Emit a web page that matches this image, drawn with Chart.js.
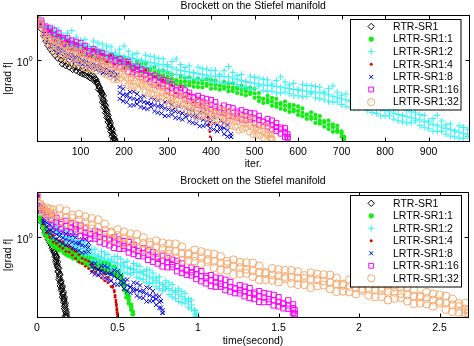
<!DOCTYPE html>
<html>
<head>
<meta charset="utf-8">
<script src="https://cdn.jsdelivr.net/npm/chart.js@4.4.1/dist/chart.umd.min.js"></script>
<style>
html, body { margin: 0; padding: 0; background: #fff; }
#wrap { position: relative; width: 474px; height: 346px; }
canvas { position: absolute; left: 0; }
#topChart { top: 0; }
#bottomChart { top: 173px; }
</style>
</head>
<body>
<div id="wrap">
  <canvas id="topChart" width="474" height="173"></canvas>
  <canvas id="bottomChart" width="474" height="173"></canvas>
</div>
<script>
// Series (same in both panels)
const seriesNames = ['RTR-SR1', 'LRTR-SR1:1', 'LRTR-SR1:2', 'LRTR-SR1:4', 'LRTR-SR1:8', 'LRTR-SR1:16', 'LRTR-SR1:32'];
const seriesColors = ['#000000', '#11ee11', '#2ef3f3', '#e00000', '#0000e6', '#ff00ff', '#f9a86c'];
const markerStyles = ['rectRot', 'circle', 'cross', 'circle', 'crossRot', 'rect', 'circle'];
const markerFilled = [false, true, false, true, false, false, false];

// Axis ticks
const topXTicks = [100, 200, 300, 400, 500, 600, 700, 800, 900];
const topXLabels = ['100', '200', '300', '400', '500', '600', '700', '800', '900'];
const bottomXTicks = [0, 0.5, 1, 1.5, 2, 2.5];
const bottomXLabels = ['0', '0.5', '1', '1.5', '2', '2.5'];

// ---- Top panel: x = iteration, values = |grad f| (upper / lower / middle of each band) ----
const topRtr = [[0,3.05],[5,2.6],[10,2.2],[15,1.85],[20,1.62],[25,1.45],[30,1.33],[36,1.22],[42,1.12],[48,1.04],[55,1.0],[58,0.9],[62,0.96],[66,0.86],[70,0.9],[74,0.83],[78,0.9],[82,0.78],[86,0.82],[90,0.76],[94,0.82],[98,0.72],[100,0.76],[104,0.7],[106,0.77],[110,0.68],[112,0.72],[116,0.66],[118,0.72],[122,0.63],[124,0.67],[128,0.61],[130,0.66],[132,0.58],[134,0.62],[136,0.6],[138,0.57],[139,0.55],[141,0.52],[143,0.5],[144,0.49],[141,0.47],[147,0.45],[146,0.46],[149,0.43],[150,0.42],[148,0.4],[153,0.4],[151,0.37],[152,0.36],[155,0.35],[150,0.34],[154,0.33],[156,0.32],[158,0.31],[153,0.3],[157,0.29],[159,0.28],[161,0.27],[157,0.26],[160,0.255],[162,0.25],[164,0.24],[160,0.23],[163,0.225],[165,0.22],[167,0.21],[163,0.205],[169,0.2],[168,0.19],[168,0.185],[166,0.178],[172,0.175],[171,0.17],[174,0.165],[169,0.16],[173,0.155],[174,0.15],[177,0.145],[172,0.142],[178,0.135],[176,0.135],[175,0.128],[179,0.13],[180,0.126]];
const topRed = [[0,3.05],[10,2.6],[20,2.04],[30,2.1],[40,1.64],[50,1.87],[60,1.47],[70,1.6],[80,1.3],[90,1.52],[100,1.21],[110,1.33],[120,1.11],[130,1.31],[140,1.06],[150,1.16],[160,0.95],[170,1.12],[180,0.9],[190,0.98],[200,0.8],[210,0.94],[220,0.745],[230,0.82],[240,0.67],[250,0.77],[260,0.61],[270,0.65],[280,0.52],[290,0.6],[300,0.48],[310,0.525],[320,0.43],[330,0.5],[340,0.39],[350,0.42],[360,0.34],[370,0.37],[380,0.3],[388,0.28],[392,0.23],[395,0.19],[397,0.16],[398,0.14]];

const topSr1Iter = [0,10,20,30,40,50,60,70,80,90,100,110,120,130,140,150,160,170,180,190,200,210,220,230,240,250,260,270,280,290,300,310,320,330,340,350,360,370,380,390,400,410,420,430,440,450,460,470,480,490,500,510,520,530,540,550,560,570,580,590,600,610,620,630,640,650,660,670,680,690,700,706];
const topSr1A = [3.05,2.4,2.29,1.9,2.04,1.58,1.7,1.38,1.57,1.31,1.48,1.16,1.22,1.1,1.24,1.01,1.11,0.94,1.09,0.93,1.06,0.84,0.89,0.81,0.91,0.74,0.8,0.66,0.756,0.646,0.728,0.564,0.595,0.545,0.633,0.524,0.586,0.5,0.594,0.516,0.6,0.482,0.52,0.479,0.55,0.451,0.497,0.419,0.486,0.418,0.476,0.35,0.37,0.338,0.38,0.304,0.333,0.279,0.319,0.269,0.305,0.237,0.247,0.221,0.246,0.196,0.21,0.171,0.193,0.159,0.161,0.14];
const topSr1B = [3.0,2.6,2.05,2.15,1.68,1.9,1.47,1.7,1.3,1.52,1.18,1.42,1.1,1.3,1.01,1.22,0.96,1.16,0.91,1.09,0.85,1.03,0.8,0.96,0.74,0.9,0.69,0.82,0.63,0.76,0.58,0.69,0.535,0.65,0.515,0.64,0.505,0.62,0.495,0.61,0.48,0.59,0.467,0.57,0.45,0.55,0.43,0.52,0.405,0.49,0.38,0.43,0.333,0.4,0.31,0.37,0.288,0.345,0.265,0.315,0.245,0.29,0.222,0.262,0.2,0.238,0.182,0.212,0.16,0.185,0.14,0.132];
const topSr1Mid = [3.05,2.5,2.2,2.0,1.85,1.72,1.63,1.53,1.45,1.38,1.32,1.27,1.22,1.17,1.13,1.1,1.07,1.04,1.01,0.98,0.95,0.92,0.89,0.86,0.83,0.805,0.77,0.735,0.7,0.68,0.65,0.62,0.595,0.58,0.575,0.57,0.563,0.556,0.55,0.543,0.536,0.53,0.52,0.51,0.5,0.49,0.478,0.465,0.45,0.44,0.425,0.385,0.37,0.36,0.345,0.33,0.32,0.31,0.295,0.283,0.272,0.26,0.247,0.235,0.224,0.213,0.202,0.19,0.179,0.167,0.153,0.14];

const topSr2Iter = [0,10,20,30,40,50,60,70,80,90,100,110,120,130,140,150,160,170,180,190,200,210,220,230,240,250,260,270,280,290,300,310,320,330,340,350,360,370,380,390,400,410,420,430,440,450,460,470,480,490,500,510,520,530,540,550,560,570,580,590,600,610,620,630,640,650,660,670,680,690,700,710,720,730,740,750,760,770,780,790,800,810,820,830,840,850,860,870,880,890,900,910,920,930,940,950,960,970,980,990];
const topSr2A = [3.05,2.47,2.36,1.98,2.27,1.62,1.89,1.44,2.12,1.4,1.65,1.23,1.41,1.62,1.17,1.23,1.43,1.03,1.22,0.95,1.43,0.96,1.14,0.86,0.99,1.13,0.83,0.87,1.04,0.76,0.89,0.69,1.03,0.69,0.825,0.625,0.72,0.83,0.61,0.64,0.765,0.57,0.69,0.55,0.845,0.567,0.67,0.5,0.575,0.66,0.484,0.513,0.61,0.447,0.54,0.43,0.65,0.44,0.53,0.4,0.465,0.537,0.396,0.423,0.506,0.372,0.441,0.344,0.514,0.342,0.407,0.306,0.35,0.4,0.292,0.309,0.366,0.262,0.31,0.239,0.358,0.239,0.282,0.211,0.24,0.276,0.2,0.211,0.248,0.179,0.21,0.162,0.242,0.162,0.191,0.143,0.163,0.186,0.135,0.141];
const topSr2B = [3.0,2.7,2.1,2.3,1.7,2.15,1.58,1.98,1.42,1.8,1.3,1.68,1.22,1.18,1.55,1.5,1.07,1.4,1.0,1.32,0.96,1.25,0.9,1.18,0.86,0.83,1.1,1.08,0.78,1.03,0.74,0.96,0.69,0.89,0.65,0.86,0.63,0.61,0.8,0.79,0.58,0.77,0.57,0.76,0.56,0.73,0.53,0.69,0.5,0.48,0.64,0.63,0.46,0.6,0.45,0.59,0.43,0.57,0.42,0.55,0.4,0.39,0.52,0.52,0.38,0.5,0.36,0.48,0.34,0.44,0.32,0.42,0.3,0.29,0.39,0.38,0.275,0.355,0.255,0.33,0.24,0.31,0.22,0.29,0.205,0.2,0.265,0.258,0.186,0.242,0.172,0.224,0.16,0.21,0.15,0.195,0.14,0.136,0.178,0.17];
const topSr2Mid = [3.05,2.55,2.25,2.08,1.97,1.88,1.8,1.72,1.63,1.56,1.5,1.45,1.41,1.37,1.33,1.29,1.24,1.2,1.16,1.13,1.1,1.07,1.04,1.01,0.99,0.96,0.94,0.92,0.9,0.88,0.85,0.82,0.79,0.765,0.75,0.735,0.72,0.705,0.69,0.675,0.665,0.66,0.66,0.655,0.65,0.63,0.61,0.59,0.575,0.56,0.55,0.54,0.53,0.52,0.515,0.51,0.5,0.49,0.48,0.47,0.465,0.455,0.45,0.445,0.44,0.432,0.42,0.41,0.395,0.38,0.37,0.36,0.35,0.34,0.332,0.325,0.318,0.305,0.295,0.285,0.275,0.265,0.256,0.248,0.24,0.234,0.228,0.222,0.216,0.208,0.2,0.193,0.186,0.18,0.174,0.168,0.163,0.158,0.153,0.148];

const topSr8Iter = [0,8,16,24,32,40,48,56,64,72,80,88,96,104,112,120,128,136,144,152,160,168,176,184,190,198,206,214,222,230,238,246,254,262,270,278,286,294,302,310,318,326,334,342,350,358,366,374,382,390,398,406,414,422,430,438,446];
const topSr8A = [3.05,2.52,1.87,1.73,1.38,1.46,1.2,1.32,1.09,1.18,0.98,1.09,0.92,1.0,0.85,0.94,0.8,0.87,0.74,0.82,0.69,0.756,0.644,0.69,0.5,0.349,0.415,0.312,0.444,0.324,0.385,0.292,0.333,0.302,0.365,0.26,0.313,0.238,0.338,0.248,0.295,0.225,0.256,0.233,0.283,0.201,0.242,0.184,0.26,0.189,0.224,0.169,0.19,0.169,0.203,0.141,0.14];
const topSr8B = [3.0,2.4,2.0,1.58,1.56,1.3,1.38,1.15,1.25,1.05,1.15,0.96,1.06,0.89,0.98,0.83,0.92,0.78,0.86,0.72,0.8,0.67,0.75,0.62,0.37,0.48,0.34,0.44,0.315,0.42,0.3,0.395,0.285,0.38,0.27,0.355,0.255,0.34,0.24,0.32,0.228,0.305,0.218,0.29,0.208,0.275,0.197,0.262,0.185,0.245,0.174,0.23,0.162,0.212,0.15,0.19,0.15];
const topSr8Mid = [3.05,2.45,1.95,1.65,1.48,1.38,1.3,1.23,1.17,1.12,1.07,1.03,0.99,0.95,0.92,0.89,0.86,0.83,0.8,0.77,0.745,0.72,0.7,0.68,0.43,0.41,0.395,0.38,0.37,0.36,0.35,0.34,0.333,0.325,0.315,0.306,0.298,0.29,0.282,0.275,0.268,0.262,0.256,0.25,0.244,0.237,0.23,0.224,0.217,0.21,0.204,0.197,0.19,0.182,0.175,0.166,0.14];

const topSr16Iter = [0,10,20,30,40,50,60,70,80,90,100,110,120,130,140,150,160,170,180,190,200,210,220,230,240,250,260,270,280,290,300,310,320,330,340,350,360,370,380,390,400,410,420,430,440,450,460,470,480,490,500,510,520,530,540,550,560,570,576];
const topSr16A = [3.05,2.47,2.36,1.89,2.13,1.6,1.75,1.39,1.65,1.34,1.55,1.16,1.25,1.1,1.22,0.97,1.05,0.88,1.0,0.84,0.96,0.74,0.8,0.7,0.79,0.61,0.67,0.53,0.63,0.51,0.58,0.43,0.46,0.4,0.46,0.35,0.39,0.317,0.38,0.31,0.36,0.27,0.293,0.258,0.3,0.236,0.268,0.218,0.264,0.218,0.255,0.191,0.207,0.182,0.213,0.162,0.178,0.139,0.135];
const topSr16B = [3.0,2.75,2.1,2.25,1.7,1.98,1.5,1.75,1.34,1.6,1.2,1.44,1.12,1.33,1.02,1.2,0.95,1.1,0.87,1.03,0.8,0.95,0.73,0.85,0.64,0.76,0.57,0.67,0.51,0.6,0.45,0.54,0.41,0.49,0.365,0.435,0.335,0.4,0.305,0.37,0.283,0.34,0.262,0.313,0.24,0.292,0.228,0.277,0.214,0.258,0.2,0.24,0.185,0.222,0.17,0.2,0.152,0.175,0.15];
const topSr16Mid = [3.05,2.6,2.25,2.05,1.9,1.78,1.67,1.58,1.5,1.43,1.36,1.3,1.25,1.2,1.15,1.1,1.06,1.02,0.98,0.94,0.9,0.86,0.82,0.77,0.72,0.68,0.64,0.6,0.57,0.54,0.51,0.485,0.46,0.435,0.41,0.39,0.375,0.36,0.345,0.33,0.318,0.305,0.293,0.28,0.27,0.262,0.255,0.248,0.24,0.232,0.224,0.215,0.207,0.198,0.19,0.18,0.17,0.158,0.14];

const topSr32Iter = [0,8,16,24,32,40,48,56,64,72,80,88,96,104,112,120,128,136,144,152,160,168,176,184,192,200,208,216,224,232,240,248,256,264,272,280,288,296,304,312,320,328,336,344,352,360,368,376,384,392,400,408,416,424,432,440,448,456,464,472,480,488,496,504,512,520,528,536,540];
const topSr32A = [3.05,2.6,1.85,1.81,1.37,1.64,1.15,1.54,1.03,1.27,0.9,1.25,0.945,1.23,0.8,0.98,0.8,1.05,0.82,1.0,0.68,0.84,0.6,0.82,0.62,0.8,0.52,0.63,0.51,0.66,0.52,0.63,0.42,0.53,0.376,0.52,0.387,0.5,0.324,0.39,0.318,0.41,0.318,0.384,0.26,0.324,0.232,0.324,0.246,0.323,0.212,0.259,0.213,0.278,0.22,0.271,0.185,0.229,0.165,0.23,0.175,0.228,0.148,0.177,0.144,0.187,0.147,0.163,0.132];
const topSr32B = [3.0,2.4,2.05,1.56,1.68,1.25,1.58,1.08,1.45,1.0,1.33,0.92,1.24,0.85,1.16,0.8,1.1,0.76,1.03,0.71,0.96,0.65,0.89,0.6,0.81,0.56,0.75,0.51,0.69,0.48,0.64,0.44,0.6,0.41,0.56,0.38,0.51,0.35,0.47,0.32,0.43,0.295,0.4,0.27,0.37,0.255,0.345,0.238,0.325,0.225,0.305,0.213,0.29,0.2,0.275,0.19,0.262,0.18,0.245,0.17,0.23,0.158,0.215,0.146,0.196,0.137,0.182,0.135,0.13];
const topSr32Mid = [3.05,2.5,1.95,1.68,1.52,1.43,1.35,1.28,1.23,1.18,1.13,1.09,1.05,1.01,0.98,0.955,0.925,0.895,0.865,0.84,0.81,0.78,0.745,0.715,0.69,0.66,0.63,0.61,0.585,0.565,0.545,0.525,0.505,0.49,0.47,0.45,0.43,0.41,0.395,0.38,0.365,0.35,0.335,0.32,0.31,0.3,0.29,0.282,0.273,0.265,0.258,0.251,0.245,0.238,0.232,0.226,0.22,0.212,0.206,0.2,0.194,0.187,0.18,0.172,0.165,0.16,0.155,0.148,0.135];

// ---- Bottom panel: x = time (s), values = |grad f| ----
const botRtr = [[0,2.9],[0.01,2.2],[0.02,1.75],[0.03,1.45],[0.04,1.25],[0.05,1.12],[0.06,1.02],[0.07,0.93],[0.08,0.86],[0.09,0.8],[0.095,0.74],[0.1,0.76],[0.1,0.7],[0.105,0.72],[0.108,0.66],[0.11,0.68],[0.112,0.6],[0.115,0.63],[0.12,0.6],[0.122,0.58],[0.116,0.52],[0.118,0.55],[0.128,0.52],[0.124,0.49],[0.126,0.47],[0.13,0.45],[0.135,0.44],[0.131,0.41],[0.133,0.4],[0.142,0.38],[0.14,0.37],[0.138,0.35],[0.137,0.33],[0.15,0.32],[0.148,0.31],[0.146,0.3],[0.144,0.28],[0.157,0.28],[0.155,0.27],[0.153,0.26],[0.151,0.25],[0.164,0.24],[0.161,0.23],[0.16,0.225],[0.158,0.21],[0.17,0.21],[0.168,0.2],[0.167,0.195],[0.165,0.185],[0.176,0.18],[0.174,0.17],[0.172,0.165],[0.171,0.155],[0.179,0.153],[0.178,0.145],[0.182,0.14],[0.181,0.133],[0.176,0.128],[0.184,0.128]];

const botSr1Time = [0,0.01,0.02,0.03,0.045,0.06,0.075,0.09,0.105,0.12,0.135,0.15,0.165,0.18,0.195,0.21,0.225,0.24,0.255,0.27,0.285,0.3,0.315,0.33,0.345,0.36,0.375,0.39,0.405,0.42,0.435,0.45,0.465,0.48,0.495,0.51,0.525,0.54,0.555,0.57,0.585,0.595];
const botSr1A = [2.9,2.0,1.66,1.33,1.3,0.97,1.11,0.81,0.9,0.74,0.87,0.71,0.83,0.63,0.725,0.6,0.705,0.577,0.672,0.515,0.6,0.5,0.594,0.488,0.571,0.44,0.515,0.432,0.517,0.428,0.504,0.387,0.45,0.374,0.435,0.344,0.363,0.252,0.248,0.179,0.173,0.135];
const botSr1B = [2.8,1.9,1.52,1.5,1.08,1.2,0.88,1.03,0.77,0.92,0.7,0.85,0.66,0.79,0.61,0.745,0.57,0.69,0.535,0.65,0.505,0.62,0.48,0.585,0.455,0.56,0.435,0.535,0.42,0.515,0.4,0.49,0.385,0.465,0.355,0.41,0.295,0.31,0.21,0.215,0.152,0.145];
const botSr1Mid = [2.9,2.0,1.6,1.4,1.2,1.08,0.99,0.92,0.86,0.82,0.79,0.76,0.74,0.715,0.69,0.665,0.64,0.62,0.6,0.585,0.57,0.555,0.54,0.525,0.51,0.5,0.49,0.48,0.47,0.46,0.45,0.44,0.43,0.415,0.395,0.37,0.33,0.28,0.23,0.195,0.165,0.135];

const botSr2Time = [0,0.02,0.04,0.06,0.08,0.1,0.12,0.14,0.16,0.18,0.2,0.22,0.24,0.26,0.28,0.3,0.32,0.34,0.36,0.38,0.4,0.42,0.44,0.46,0.48,0.5,0.52,0.54,0.56,0.58,0.6,0.62,0.64,0.66,0.68,0.7,0.72,0.74,0.76,0.78,0.8,0.82,0.84,0.86,0.88,0.9,0.92,0.94,0.96,0.98,0.99];
const botSr2A = [2.9,2.24,1.73,1.7,1.33,1.49,1.14,1.32,0.99,1.11,0.92,1.09,0.75,0.88,0.655,0.876,0.62,0.71,0.538,0.605,0.544,0.655,0.463,0.56,0.43,0.596,0.434,0.514,0.39,0.44,0.397,0.478,0.338,0.406,0.308,0.422,0.302,0.352,0.262,0.29,0.257,0.304,0.212,0.25,0.188,0.244,0.18,0.203,0.155,0.15,0.128];
const botSr2B = [2.8,2.1,1.9,1.45,1.6,1.2,1.42,1.06,1.3,0.92,1.15,0.8,1.02,0.72,0.9,0.63,0.8,0.55,0.72,0.52,0.68,0.48,0.63,0.45,0.6,0.42,0.56,0.4,0.53,0.38,0.5,0.35,0.465,0.33,0.43,0.3,0.39,0.275,0.355,0.25,0.32,0.225,0.29,0.203,0.26,0.182,0.23,0.16,0.195,0.135,0.14];
const botSr2Mid = [2.9,2.2,1.8,1.6,1.45,1.35,1.27,1.2,1.13,1.06,1.0,0.94,0.88,0.83,0.78,0.73,0.69,0.645,0.625,0.605,0.585,0.565,0.545,0.528,0.512,0.497,0.482,0.467,0.453,0.44,0.427,0.412,0.398,0.383,0.367,0.352,0.336,0.32,0.305,0.29,0.276,0.262,0.249,0.236,0.224,0.212,0.2,0.188,0.172,0.15,0.128];

const botSr4Time = [0,0.02,0.04,0.06,0.08,0.1,0.12,0.14,0.16,0.18,0.2,0.22,0.24,0.26,0.28,0.3,0.32,0.34,0.36,0.38,0.4,0.42,0.44,0.46,0.47,0.48,0.485,0.49,0.493,0.496,0.498,0.5];
const botSr4A = [2.9,1.9,1.54,1.1,1.17,0.87,0.95,0.78,0.88,0.68,0.76,0.62,0.68,0.52,0.57,0.465,0.53,0.41,0.456,0.373,0.418,0.32,0.35,0.276,0.28,0.25,0.22,0.195,0.175,0.157,0.142,0.128];
const botSr4B = [2.8,2.0,1.38,1.28,0.98,1.04,0.84,0.9,0.74,0.8,0.67,0.72,0.57,0.63,0.5,0.55,0.44,0.49,0.4,0.43,0.345,0.38,0.305,0.32,0.27,0.24,0.21,0.185,0.168,0.15,0.137,0.125];

const botSr8Time = [0,0.02,0.04,0.06,0.08,0.1,0.12,0.14,0.16,0.18,0.2,0.22,0.24,0.26,0.28,0.3,0.32,0.34,0.36,0.38,0.4,0.42,0.44,0.46,0.48,0.5,0.52,0.54,0.56,0.58,0.6,0.62,0.64,0.66,0.68,0.7,0.72,0.74,0.76,0.77,0.78];
const botSr8A = [2.9,2.06,1.43,1.43,1.08,1.25,0.93,1.11,0.834,1.07,0.81,1.03,0.72,0.86,0.66,0.94,0.68,0.506,0.378,0.425,0.38,0.47,0.33,0.394,0.295,0.408,0.288,0.33,0.245,0.272,0.244,0.3,0.208,0.249,0.188,0.264,0.19,0.22,0.159,0.19,0.14];
const botSr8B = [2.8,1.9,1.6,1.15,1.36,0.98,1.2,0.88,1.12,0.8,1.04,0.75,0.98,0.7,0.93,0.67,0.86,0.4,0.5,0.37,0.47,0.345,0.45,0.32,0.42,0.29,0.37,0.26,0.33,0.235,0.305,0.218,0.285,0.205,0.27,0.19,0.245,0.172,0.215,0.16,0.15];
const botSr8Mid = [2.9,2.0,1.5,1.3,1.2,1.12,1.06,1.01,0.97,0.93,0.9,0.87,0.85,0.82,0.8,0.78,0.76,0.46,0.44,0.425,0.41,0.4,0.39,0.375,0.36,0.34,0.32,0.3,0.285,0.272,0.262,0.253,0.245,0.237,0.229,0.22,0.212,0.2,0.185,0.19,0.14];

const botSr16Time = [0,0.03,0.06,0.09,0.12,0.15,0.18,0.21,0.24,0.27,0.3,0.33,0.36,0.39,0.42,0.45,0.48,0.51,0.54,0.57,0.6,0.63,0.66,0.69,0.72,0.75,0.78,0.81,0.84,0.87,0.9,0.93,0.96,0.99,1.02,1.05,1.08,1.11,1.14,1.17,1.2,1.23,1.26,1.29,1.32,1.35,1.38,1.41,1.44,1.47,1.5,1.53,1.56,1.59,1.6];
const botSr16A = [2.9,2.16,1.66,1.75,1.28,1.45,1.14,1.42,1.13,1.33,0.99,1.07,0.95,1.12,0.836,0.955,0.748,0.93,0.735,0.868,0.64,0.69,0.603,0.706,0.524,0.593,0.464,0.577,0.456,0.535,0.392,0.42,0.368,0.43,0.317,0.359,0.28,0.347,0.276,0.328,0.243,0.262,0.232,0.275,0.206,0.236,0.186,0.233,0.186,0.222,0.166,0.178,0.156,0.174,0.135];
const botSr16B = [2.8,2.0,1.9,1.38,1.62,1.22,1.5,1.12,1.36,1.02,1.25,0.95,1.16,0.87,1.07,0.8,0.98,0.73,0.89,0.665,0.81,0.61,0.74,0.55,0.67,0.5,0.61,0.455,0.55,0.41,0.5,0.375,0.45,0.335,0.41,0.3,0.37,0.275,0.34,0.252,0.31,0.233,0.285,0.215,0.265,0.2,0.245,0.185,0.228,0.17,0.21,0.158,0.193,0.14,0.15];
const botSr16Mid = [2.9,2.1,1.75,1.55,1.45,1.38,1.32,1.27,1.21,1.16,1.11,1.07,1.03,0.99,0.95,0.91,0.87,0.83,0.79,0.755,0.72,0.69,0.655,0.625,0.595,0.565,0.54,0.515,0.49,0.465,0.44,0.42,0.4,0.38,0.36,0.342,0.325,0.31,0.297,0.285,0.273,0.262,0.252,0.243,0.234,0.225,0.216,0.208,0.2,0.193,0.186,0.178,0.17,0.158,0.135];

const botSr32Time = [0,0.02,0.04,0.06,0.08,0.1,0.14,0.18,0.22,0.26,0.3,0.34,0.38,0.42,0.46,0.5,0.54,0.58,0.62,0.66,0.7,0.74,0.78,0.82,0.86,0.9,0.94,0.98,1.02,1.06,1.1,1.14,1.18,1.22,1.26,1.3,1.34,1.38,1.42,1.46,1.5,1.54,1.58,1.62,1.66,1.7,1.74,1.78,1.82,1.86,1.9,1.94,1.98,2.02,2.06,2.1,2.14,2.18,2.22,2.26,2.3,2.34,2.38,2.42,2.46,2.5,2.54,2.58,2.62,2.66,2.68];
const botSr32A = [2.9,2.3,2.1,1.77,2.03,1.62,2.06,1.39,1.73,1.22,1.67,1.22,1.55,0.97,1.13,0.9,1.13,0.87,1.06,0.71,0.86,0.62,0.85,0.64,0.83,0.54,0.65,0.53,0.68,0.527,0.636,0.428,0.53,0.376,0.518,0.389,0.506,0.328,0.397,0.324,0.427,0.339,0.42,0.29,0.367,0.269,0.38,0.286,0.372,0.242,0.294,0.24,0.314,0.249,0.308,0.212,0.268,0.195,0.274,0.207,0.272,0.177,0.216,0.176,0.228,0.179,0.216,0.144,0.178,0.14,0.14];
const botSr32B = [2.8,2.2,1.85,2.1,1.66,2.0,1.48,1.95,1.35,1.78,1.24,1.6,1.07,1.38,0.95,1.2,0.83,1.08,0.76,0.98,0.68,0.9,0.63,0.83,0.58,0.77,0.54,0.71,0.5,0.65,0.45,0.6,0.42,0.55,0.385,0.51,0.355,0.47,0.33,0.44,0.31,0.42,0.3,0.405,0.29,0.395,0.28,0.375,0.26,0.345,0.245,0.325,0.228,0.305,0.22,0.295,0.212,0.285,0.203,0.27,0.19,0.255,0.18,0.238,0.166,0.222,0.153,0.2,0.142,0.18,0.15];
const botSr32Mid = [2.9,2.3,2.0,1.9,1.85,1.8,1.72,1.65,1.6,1.53,1.45,1.36,1.27,1.18,1.1,1.03,0.97,0.92,0.88,0.84,0.8,0.77,0.74,0.71,0.68,0.655,0.63,0.605,0.58,0.555,0.53,0.51,0.49,0.47,0.45,0.432,0.415,0.4,0.385,0.372,0.365,0.357,0.35,0.345,0.34,0.336,0.33,0.318,0.305,0.295,0.285,0.276,0.268,0.262,0.257,0.252,0.248,0.244,0.238,0.23,0.223,0.216,0.21,0.202,0.195,0.188,0.18,0.172,0.165,0.155,0.14];

const yMin = 0.1227;
const yMax = 3.162;
const FONT = "'Liberation Sans', Arial, Helvetica, sans-serif";
const legendRadii = [3.2, 2.6, 3.3, 1.5, 2.8, 3.4, 3.6];

// one column of readings per x: every layer gives one marker
function stackPoints(xs, ...layers) {
    const pts = [];
    layers.forEach(layer => xs.forEach((x, i) => pts.push([x, layer[i]])));
    return pts;
}

function makeDatasets(seriesData, radii) {
    return seriesData.map((pts, i) => ({
        label: seriesNames[i],
        data: pts.map(p => ({ x: p[0], y: p[1] })),
        showLine: false,
        pointStyle: markerStyles[i],
        pointRadius: radii[i],
        pointHoverRadius: radii[i],
        pointBorderWidth: markerFilled[i] ? 0 : 1,
        pointBorderColor: seriesColors[i],
        pointBackgroundColor: markerFilled[i] ? seriesColors[i] : 'rgba(0,0,0,0)',
        borderColor: seriesColors[i],
        backgroundColor: markerFilled[i] ? seriesColors[i] : 'rgba(0,0,0,0)',
        order: seriesNames.length - 1 - i   // last series drawn on top, like MATLAB
    }));
}

// Box, inward ticks, titles and legend in the MATLAB look
function framePlugin(cfg) {
    return {
        id: 'frame',
        afterDatasetsDraw(chart) {
            const ctx = chart.ctx;
            const a = chart.chartArea;
            const xs = chart.scales.x;
            const ys = chart.scales.y;
            ctx.save();
            ctx.strokeStyle = '#000';
            ctx.lineWidth = 1;
            const L = Math.round(a.left) + 0.5, R = Math.round(a.right) - 0.5;
            const T = Math.round(a.top) + 0.5, B = Math.round(a.bottom) - 0.5;
            ctx.strokeRect(L, T, R - L, B - T);

            ctx.beginPath();
            cfg.xTicks.forEach(v => {
                const x = Math.round(xs.getPixelForValue(v)) + 0.5;
                ctx.moveTo(x, B); ctx.lineTo(x, B - 4);
                ctx.moveTo(x, T); ctx.lineTo(x, T + 4);
            });
            const y0 = Math.round(ys.getPixelForValue(1)) + 0.5;
            ctx.moveTo(L, y0); ctx.lineTo(L + 4, y0);
            ctx.moveTo(R, y0); ctx.lineTo(R - 4, y0);
            ctx.stroke();

            // y tick label 10^0
            ctx.fillStyle = '#000';
            ctx.textBaseline = 'alphabetic';
            ctx.font = '10.5px ' + FONT;
            ctx.textAlign = 'right';
            ctx.fillText('10', a.left - 8.5, y0 + 5);
            ctx.font = '7px ' + FONT;
            ctx.textAlign = 'left';
            ctx.fillText('0', a.left - 8.3, y0 + 0.5);

            // titles
            ctx.font = '10.5px ' + FONT;
            ctx.textAlign = 'center';
            const cx = (a.left + a.right) / 2;
            ctx.fillText(cfg.title, cx, cfg.titleY);
            ctx.fillText(cfg.xTitle, cx, cfg.xTitleY);
            ctx.save();
            ctx.translate(cfg.yTitleX, (a.top + a.bottom) / 2);
            ctx.rotate(-Math.PI / 2);
            ctx.textBaseline = 'middle';
            ctx.fillText('|grad f|', 0, 0);
            ctx.restore();

            // legend
            const lg = cfg.legend;
            ctx.fillStyle = '#fff';
            ctx.fillRect(lg.x, lg.y, lg.w, lg.h);
            ctx.strokeStyle = '#000';
            ctx.lineWidth = 1;
            ctx.strokeRect(lg.x + 0.5, lg.y + 0.5, lg.w, lg.h);
            seriesNames.forEach((name, i) => {
                const cy = lg.y + lg.first + i * lg.step;
                ctx.strokeStyle = seriesColors[i];
                ctx.fillStyle = markerFilled[i] ? seriesColors[i] : 'rgba(0,0,0,0)';
                ctx.lineWidth = 1;
                Chart.helpers.drawPoint(ctx, {
                    pointStyle: markerStyles[i],
                    radius: legendRadii[i],
                    rotation: 0,
                    borderWidth: markerFilled[i] ? 0 : 1
                }, lg.x + 21.2, cy);
                ctx.fillStyle = '#000';
                ctx.textAlign = 'left';
                ctx.textBaseline = 'middle';
                ctx.font = '10.5px ' + FONT;
                ctx.fillText(name, lg.x + 43, cy + 0.5);
            });
            ctx.restore();
        }
    };
}

function buildChart(id, seriesData, radii, cfg) {
    return new Chart(document.getElementById(id), {
        type: 'scatter',
        data: { datasets: makeDatasets(seriesData, radii) },
        options: {
            responsive: false,
            animation: false,
            devicePixelRatio: 1,
            layout: { padding: { top: cfg.top, right: 3, left: 0, bottom: 0 } },
            plugins: {
                legend: { display: false },
                tooltip: { enabled: false },
                title: { display: false }
            },
            scales: {
                x: {
                    type: 'linear',
                    min: cfg.xMin,
                    max: cfg.xMax,
                    grid: { display: false, drawTicks: false },
                    border: { display: false },
                    afterBuildTicks: s => { s.ticks = cfg.xTicks.map(v => ({ value: v })); },
                    afterFit: s => { s.height = cfg.xAxisHeight; },
                    ticks: {
                        color: '#000',
                        font: { family: FONT, size: 10.5 },
                        padding: 4,
                        maxRotation: 0,
                        autoSkip: false,
                        callback: (v, i) => cfg.xLabels[i]
                    }
                },
                y: {
                    type: 'logarithmic',
                    min: yMin,
                    max: yMax,
                    grid: { display: false, drawTicks: false },
                    border: { display: false },
                    ticks: { display: false },
                    afterFit: s => { s.width = 37; }
                }
            }
        },
        plugins: [framePlugin(cfg)]
    });
}

buildChart('topChart',
    [
        topRtr,
        stackPoints(topSr1Iter, topSr1A, topSr1B, topSr1Mid),
        stackPoints(topSr2Iter, topSr2A, topSr2B, topSr2Mid),
        topRed,
        stackPoints(topSr8Iter, topSr8A, topSr8B, topSr8Mid),
        stackPoints(topSr16Iter, topSr16A, topSr16B, topSr16Mid),
        stackPoints(topSr32Iter, topSr32A, topSr32B, topSr32Mid)
    ],
    [3, 2.1, 3.2, 1.3, 3, 3.5, 3],
    {
        top: 15, xMin: 0, xMax: 994, xAxisHeight: 31,
        xTicks: topXTicks, xLabels: topXLabels,
        title: 'Brockett on the Stiefel manifold', titleY: 9,
        xTitle: 'iter.', xTitleY: 167.3, yTitleX: 8,
        legend: { x: 350, y: 19, w: 110.5, h: 90.5, first: 7.5, step: 12.6 }
    });

buildChart('bottomChart',
    [
        botRtr,
        stackPoints(botSr1Time, botSr1A, botSr1B, botSr1Mid),
        stackPoints(botSr2Time, botSr2A, botSr2B, botSr2Mid),
        stackPoints(botSr4Time, botSr4A, botSr4B),
        stackPoints(botSr8Time, botSr8A, botSr8B, botSr8Mid),
        stackPoints(botSr16Time, botSr16A, botSr16B, botSr16Mid),
        stackPoints(botSr32Time, botSr32A, botSr32B, botSr32Mid)
    ],
    [3.2, 2.2, 3.2, 1.4, 3, 3.8, 4],
    {
        top: 19, xMin: 0, xMax: 2.683, xAxisHeight: 28,
        xTicks: bottomXTicks, xLabels: bottomXLabels,
        title: 'Brockett on the Stiefel manifold', titleY: 11.3,
        xTitle: 'time(second)', xTitleY: 170.5, yTitleX: 8,
        legend: { x: 350, y: 22, w: 111, h: 91.5, first: 8.3, step: 12.5 }
    });
</script>
